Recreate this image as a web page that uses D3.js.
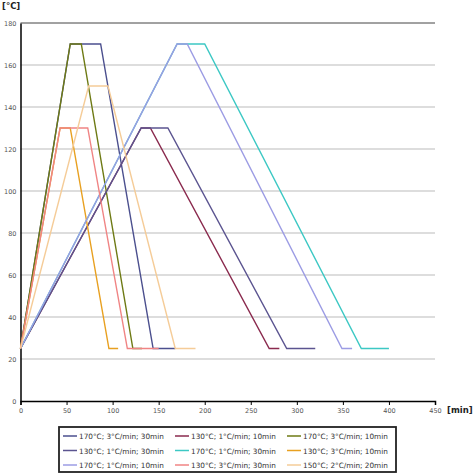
<!DOCTYPE html><html><head><meta charset="utf-8"><script src="https://cdn.jsdelivr.net/npm/d3@7"></script>
<style>body{margin:0;background:#fff}</style></head><body><svg id="c" width="474" height="474"></svg><script>
const labels=["170°C; 3°C/min; 30min","130°C; 1°C/min; 10min","170°C; 3°C/min; 10min","130°C; 1°C/min; 30min","170°C; 1°C/min; 30min","130°C; 3°C/min; 10min","170°C; 1°C/min; 10min","130°C; 3°C/min; 30min","150°C; 2°C/min; 20min"];
const colors=["#4b4f8e","#8a2a4e","#6e7a14","#5b5490","#3cc8c4","#e8a020","#9c9ce4","#f08484","#f5cc98"];
const times=[[0,54,87,144,168],[0,131,141,270,281],[0,54,66,122,132],[0,131,160,289,320],[0,170,200,370,400],[0,43,54,96,106],[0,170,181,349,360],[0,43,73,116,150],[0,74,95,168,190]];
const temps=[[25,170,170,25,25],[25,130,130,25,25],[25,170,170,25,25],[25,130,130,25,25],[25,170,170,25,25],[25,130,130,25,25],[25,170,170,25,25],[25,130,130,25,25],[25,150,150,25,25]];
const xTicks=[0,50,100,150,200,250,300,350,400,450];
const yTicks=[0,20,40,60,80,100,120,140,160,180];
const svg=d3.select("#c");
const x=d3.scaleLinear().domain([0,450]).range([20.5,435]);
const y=d3.scaleLinear().domain([0,180]).range([401,23]);
const g=svg.append("g");
yTicks.slice(1).forEach(t=>g.append("line").attr("x1",x(0)).attr("x2",x(450)).attr("y1",y(t)).attr("y2",y(t)).attr("stroke",t==180?"#444":"#bbb").attr("stroke-width",t==180?1:1.2));
const xa=svg.append("g").attr("transform",`translate(0,${y(0)})`).call(d3.axisBottom(x).tickValues(xTicks).tickSize(4).tickFormat(d3.format("d")));
const ya=svg.append("g").attr("transform",`translate(${x(0)},0)`).call(d3.axisLeft(y).tickValues(yTicks).tickSize(0).tickPadding(4).tickFormat(d3.format("d")));
[xa,ya].forEach(a=>{a.selectAll("text").attr("font-family","DejaVu Sans").attr("font-size",6.5).attr("fill","#555");a.select(".domain").attr("stroke","#000").attr("stroke-width",1.5);a.selectAll(".tick line").attr("stroke","#000");});
const line=d3.line().x(d=>x(d[0])).y(d=>y(d[1]));
times.forEach((ts,i)=>svg.append("path").attr("d",line(ts.map((t,j)=>[t,temps[i][j]]))).attr("fill","none").attr("stroke",colors[i]).attr("stroke-width",1.4));
svg.append("text").attr("x",2).attr("y",9).text("[°C]").attr("font-family","DejaVu Sans").attr("font-weight","bold").attr("font-size",8.5).attr("fill","#222");
svg.append("text").attr("x",447).attr("y",413).text("[min]").attr("font-family","DejaVu Sans").attr("font-weight","bold").attr("font-size",8.5).attr("fill","#222");
svg.append("rect").attr("x",59).attr("y",427).attr("width",337).attr("height",45).attr("fill","#fff").attr("stroke","#222").attr("stroke-width",1.8);
labels.forEach((l,i)=>{const c=i%3,r=Math.floor(i/3);const lx=63+c*112,ly=436+r*14.5;
svg.append("line").attr("x1",lx).attr("x2",lx+14).attr("y1",ly).attr("y2",ly).attr("stroke",colors[i]).attr("stroke-width",1.5);
svg.append("text").attr("x",lx+16).attr("y",ly+3).text(l).attr("font-family","DejaVu Sans").attr("font-size",7.3).attr("fill","#333");});
</script></body></html>
